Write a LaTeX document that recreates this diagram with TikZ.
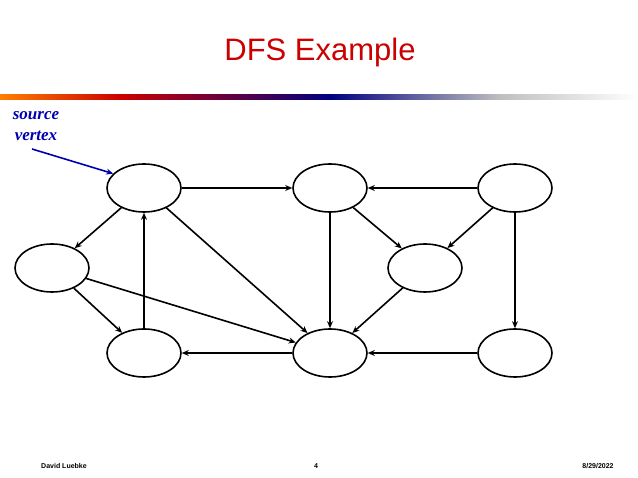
\documentclass[tikz,border=0pt]{standalone}
\usepackage{fontspec}
\setmainfont{Liberation Serif}
\newfontfamily\arial{Liberation Sans}
\usetikzlibrary{shapes.geometric,arrows.meta}
\begin{document}
\begin{tikzpicture}[x=1pt,y=-1pt,
  vtx/.style={ellipse,draw,line width=1.6pt,minimum width=74pt,minimum height=48pt,inner sep=0pt},
  edge/.style={-{Stealth[length=7pt,width=6pt]},line width=1.6pt}]
\useasboundingbox[fill=white] (0,0) rectangle (638,478);
\node[text=red!80!black,font=\arial\fontsize{31}{34}\selectfont] (t) at (320,52) {DFS Example};
\shade[left color=orange,right color=red!80!black] (0,95) rectangle (120,100);
\shade[left color=red!80!black,right color=blue!50!black] (120,95) rectangle (330,100);
\shade[left color=blue!50!black,right color=gray!50] (330,95) rectangle (500,100);
\shade[left color=gray!50,right color=white] (500,95) rectangle (638,100);
\node[text=blue!70!black,font=\itshape\bfseries\fontsize{17}{21}\selectfont,align=center] (s) at (36,126) {source\\vertex};
\node[vtx] (A) at (144,188) {};
\node[vtx] (B) at (330,188) {};
\node[vtx] (C) at (515,188) {};
\node[vtx] (D) at (52,268) {};
\node[vtx] (E) at (425,268) {};
\node[vtx] (F) at (144,353) {};
\node[vtx] (G) at (330,353) {};
\node[vtx] (H) at (515,353) {};
\coordinate (sa) at (32,149);
\draw[edge,blue!70!black] (sa) -- (A.155);
\draw[edge] (A) -- (B);
\draw[edge] (C) -- (B);
\draw[edge] (A) -- (D);
\draw[edge] (D) -- (F);
\draw[edge] (F) -- (A);
\draw[edge] (A) -- (G);
\draw[edge] (D) -- (G);
\draw[edge] (B) -- (G);
\draw[edge] (B) -- (E);
\draw[edge] (C) -- (E);
\draw[edge] (E) -- (G);
\draw[edge] (C) -- (H);
\draw[edge] (H) -- (G);
\draw[edge] (G) -- (F);
\node[font=\arial\bfseries\fontsize{7}{8}\selectfont] (f1) at (64,466) {David Luebke};
\node[font=\arial\bfseries\fontsize{7}{8}\selectfont] (f2) at (316,466) {4};
\node[font=\arial\bfseries\fontsize{7}{8}\selectfont] (f3) at (598,466) {8/29/2022};
\end{tikzpicture}
\end{document}
